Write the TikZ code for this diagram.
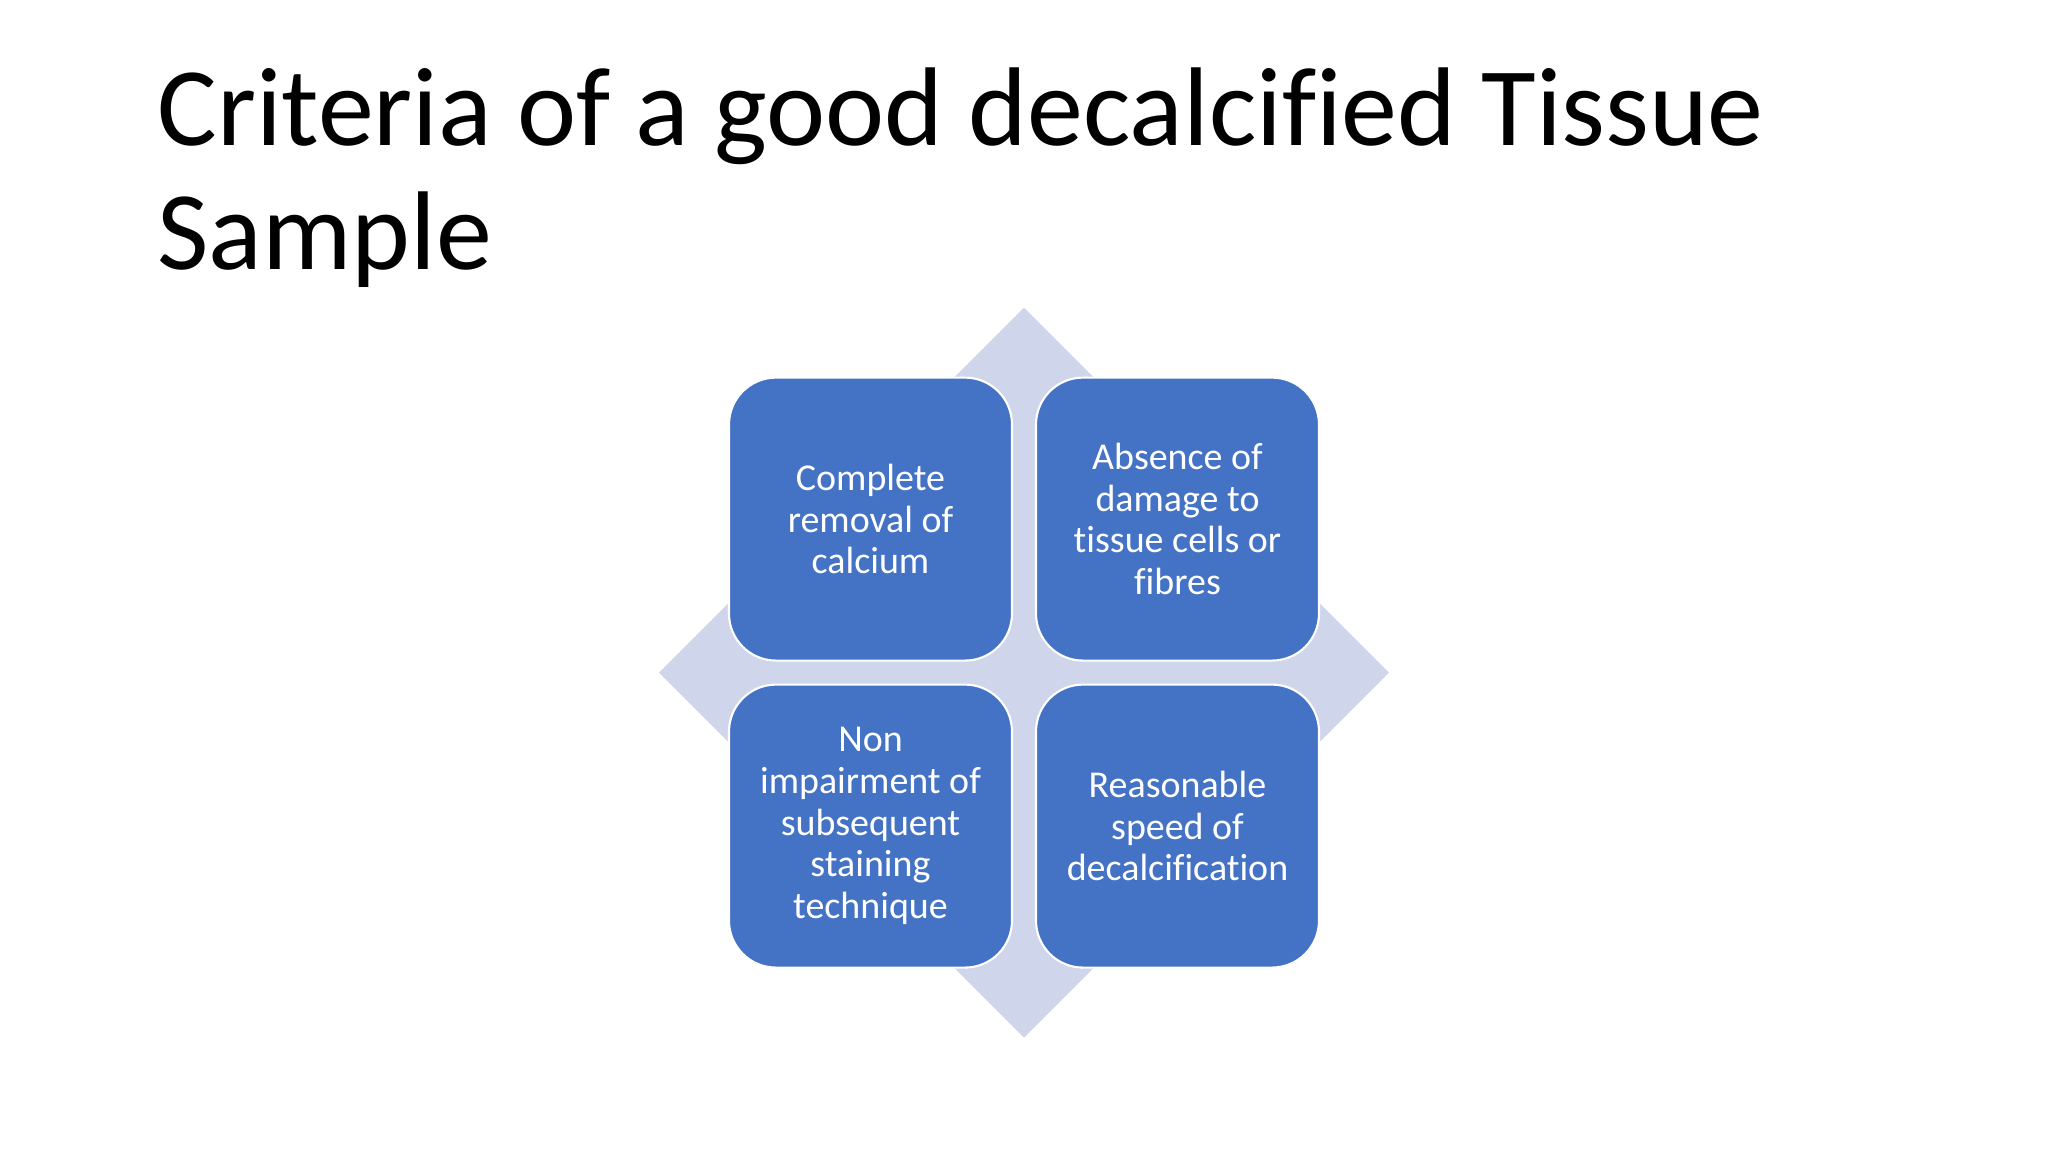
\documentclass[tikz,border=0pt]{standalone}
\usepackage{fontspec}
\setmainfont{Carlito}[Ligatures=NoCommon]
\usetikzlibrary{calc}
\definecolor{boxblue}{HTML}{4472C4}
\definecolor{diamondlav}{HTML}{CFD5EA}
\begin{document}
\begin{tikzpicture}[line join=round,
	critbox/.style={rectangle, rounded corners=0.47cm, minimum width=2.83cm, minimum height=2.83cm,
		fill=boxblue, draw=white, line width=0.6pt, text=white, align=center,
		font=\fontsize{10.8}{11.85}\selectfont}]
		\useasboundingbox (0,0) rectangle (20.48,11.52);
		% title
		\node[anchor=north west, inner sep=0pt, align=left, font=\fontsize{31.85}{35.2}\selectfont] (title) at (1.567,10.85)
			{Criteria of a good decalcified Tissue\\Sample};
		% background diamond
		\coordinate (mid) at (10.24,4.794);
		\fill[diamondlav] ($(mid)+(0,3.65)$) -- ($(mid)+(3.65,0)$) -- ($(mid)+(0,-3.65)$) -- ($(mid)+(-3.65,0)$) -- cycle;
		% the four criteria
		\node[critbox] (removal) at ($(mid)+(-1.535,1.535)$) {Complete\\removal of\\calcium};
		\node[critbox] (damage) at ($(mid)+(1.535,1.535)$) {Absence of\\damage to\\tissue cells or\\fibres};
		\node[critbox] (staining) at ($(mid)+(-1.535,-1.535)$) {Non\\impairment of\\subsequent\\staining\\technique};
		\node[critbox] (speed) at ($(mid)+(1.535,-1.535)$) {Reasonable\\speed of\\decalcification};
	\end{tikzpicture}
\end{document}
